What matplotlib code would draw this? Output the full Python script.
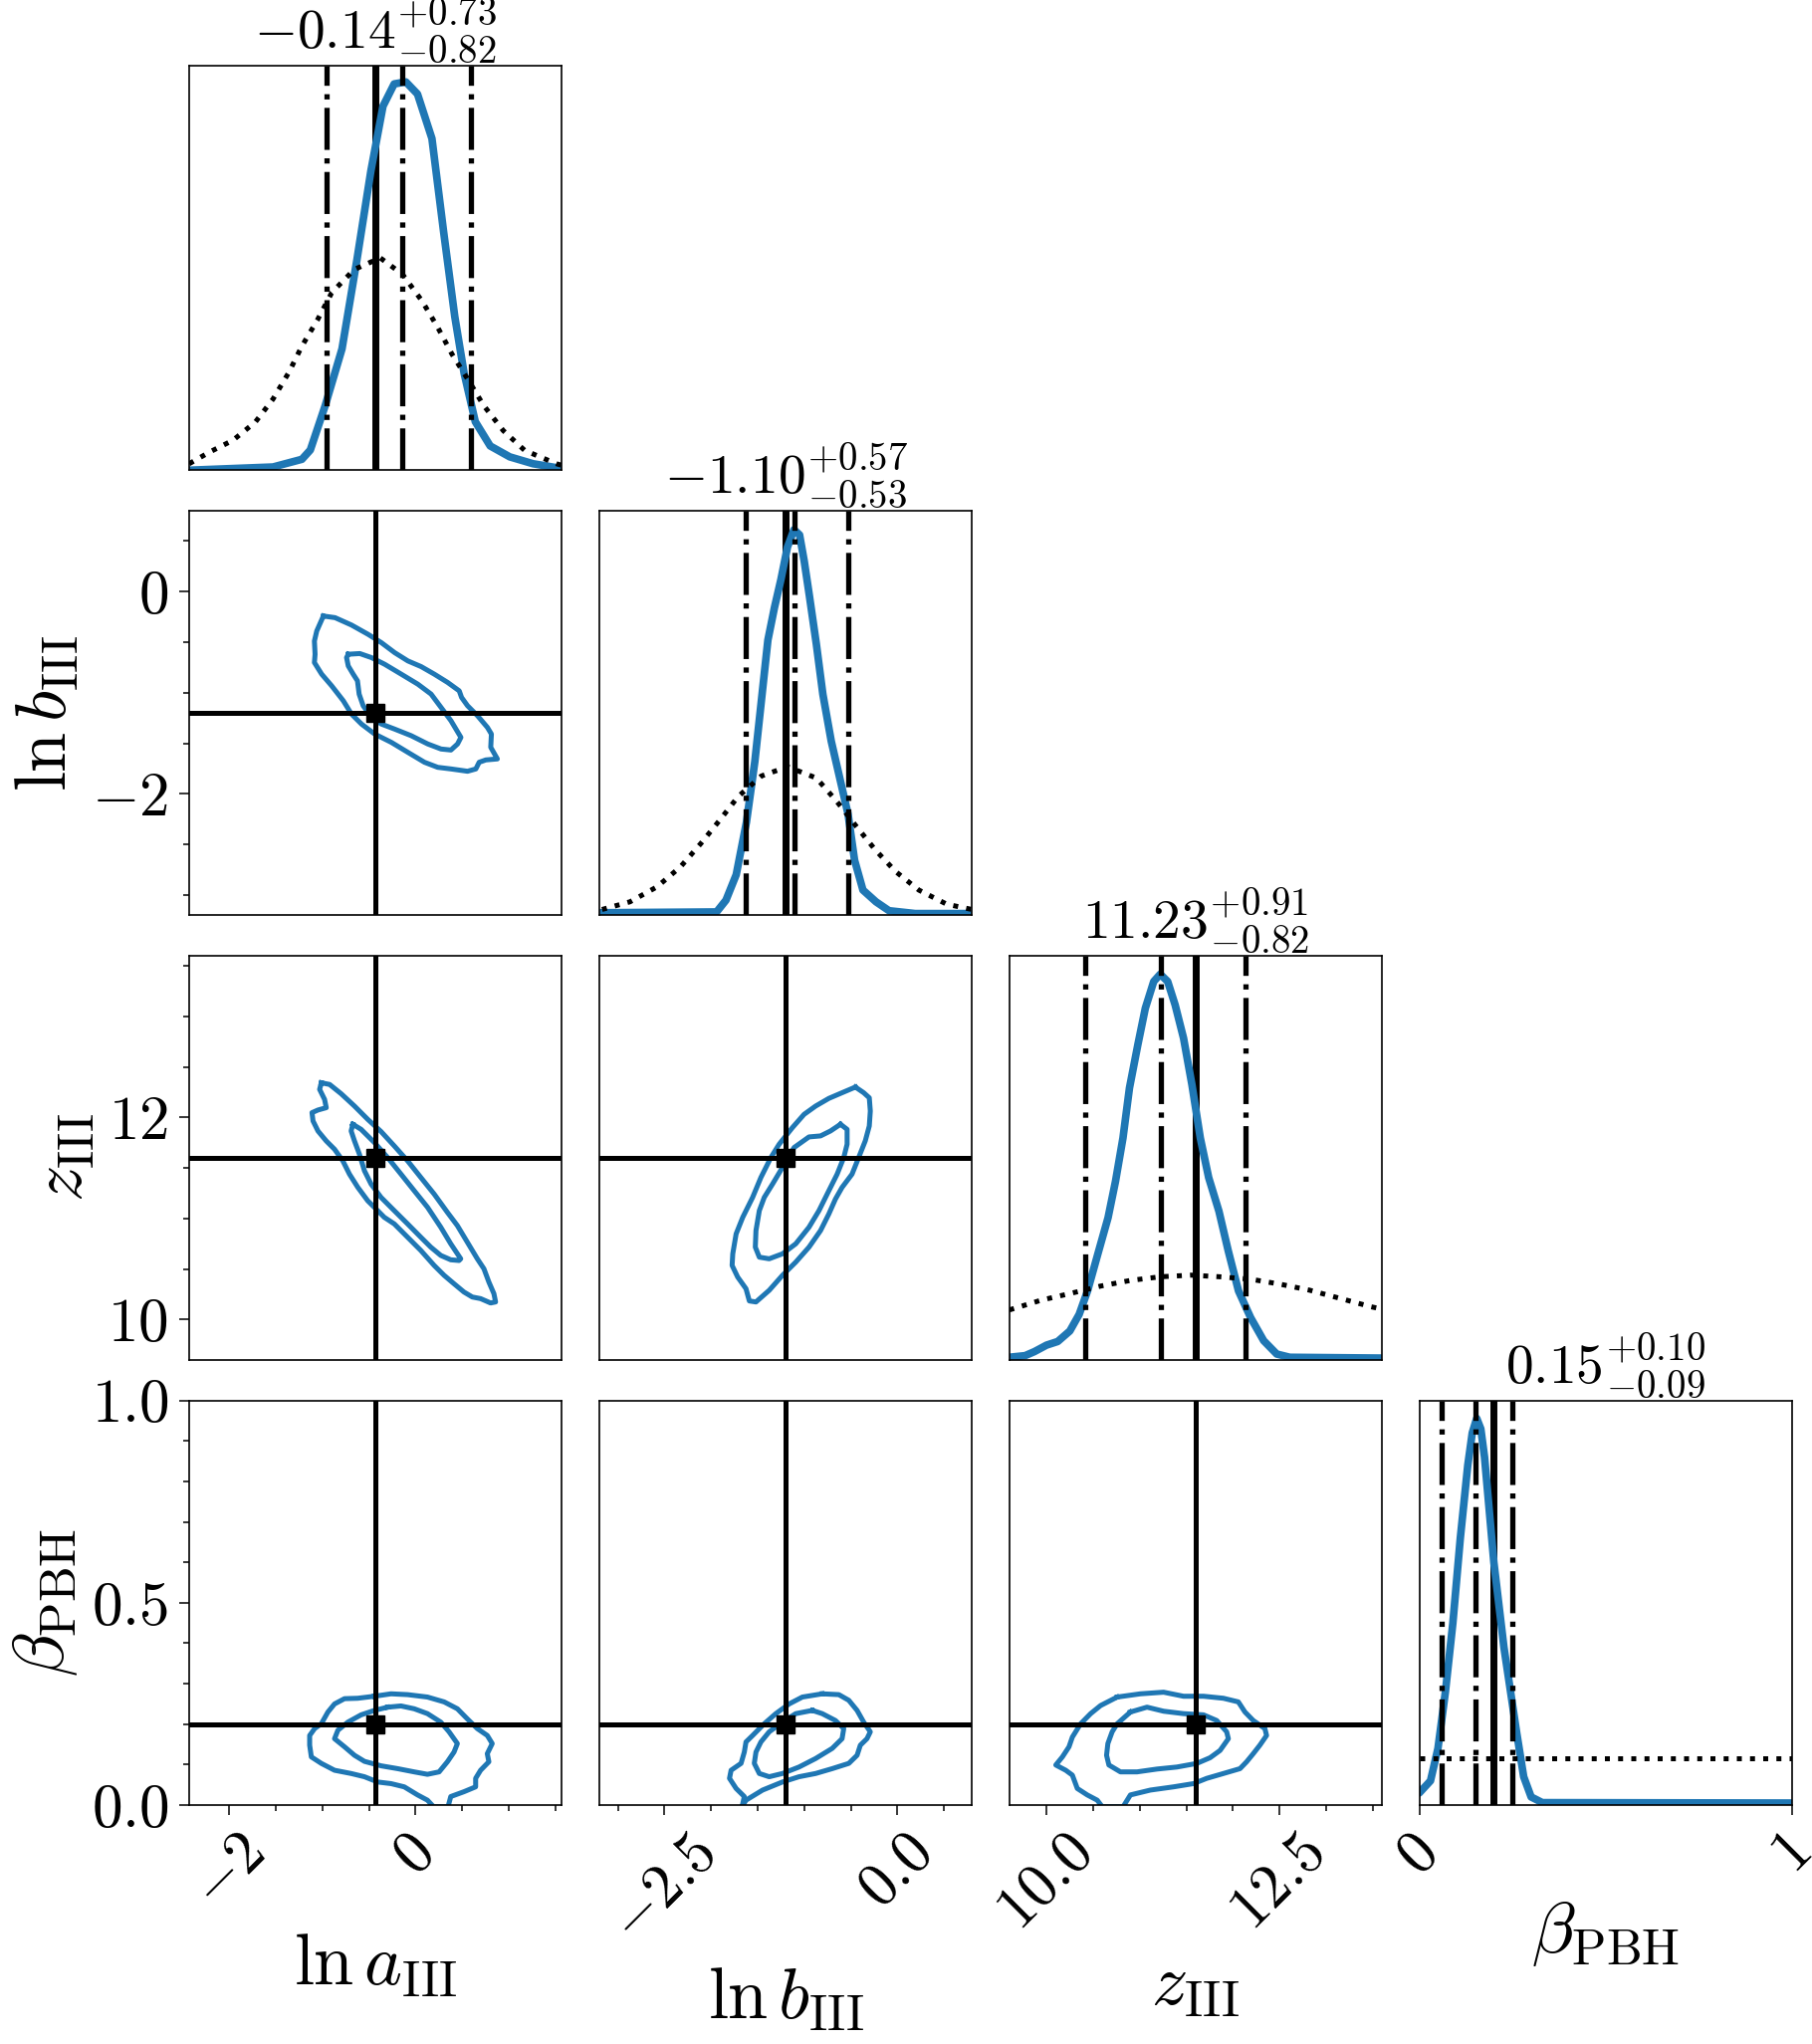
import numpy as np
import matplotlib.pyplot as plt
from matplotlib.ticker import MultipleLocator

plt.rcParams["mathtext.fontset"] = "cm"
plt.rcParams["font.family"] = "serif"
plt.rcParams["font.serif"] = ["cmr10", "DejaVu Serif"]
plt.rcParams["axes.formatter.use_mathtext"] = True

BLUE = "#1f77b4"

# parameters
labels = [r"$\ln a_{\rm III}$", r"$\ln b_{\rm III}$", r"$z_{\rm III}$", r"$\beta_{\rm PBH}$"]
truths = [-0.43, -1.2, 11.6, 0.2]
ranges = [(-2.43, 1.57), (-3.2, 0.8), (9.6, 13.6), (0.0, 1.0)]
medians = [-0.14, -1.10, 11.23, 0.15]
err_plus = [0.73, 0.57, 0.91, 0.10]
err_minus = [0.82, 0.53, 0.82, 0.09]

xtick_vals = [[-2, 0], [-2.5, 0.0], [10.0, 12.5], [0, 1]]
xtick_labels = [[r"$-2$", r"$0$"], [r"$-2.5$", r"$0.0$"], [r"$10.0$", r"$12.5$"], [r"$0$", r"$1$"]]
xminor_step = [0.5, 0.5, 0.5, None]
ytick_vals = [None, [-2, 0], [10, 12], [0.0, 0.5, 1.0]]
ytick_labels = [None, [r"$-2$", r"$0$"], [r"$10$", r"$12$"], [r"$0.0$", r"$0.5$", r"$1.0$"]]
yminor_step = [None, 0.5, 0.5, 0.1]

# 1D marginal posteriors (height as fraction of panel)
post_a_x = [-2.43, -1.53, -1.22, -1.13, -0.97, -0.79, -0.63, -0.48, -0.35, -0.23, -0.105,
            0.02, 0.175, 0.30, 0.42, 0.52, 0.64, 0.80, 1.01, 1.26, 1.57]
post_a_y = [0.0, 0.008, 0.027, 0.05, 0.16, 0.30, 0.52, 0.74, 0.90, 0.955, 0.96,
            0.93, 0.82, 0.59, 0.38, 0.24, 0.12, 0.06, 0.033, 0.016, 0.004]
post_b_x = [-3.2, -1.94, -1.84, -1.73, -1.62, -1.53, -1.46, -1.39, -1.32, -1.25, -1.18,
            -1.11, -1.05, -1.0, -0.945, -0.87, -0.80, -0.71, -0.62, -0.53, -0.46, -0.37,
            -0.23, -0.09, 0.19, 0.8]
post_b_y = [0.006, 0.008, 0.037, 0.10, 0.23, 0.38, 0.53, 0.68, 0.76, 0.83, 0.91,
            0.953, 0.94, 0.875, 0.79, 0.67, 0.546, 0.43, 0.34, 0.25, 0.136, 0.062,
            0.033, 0.011, 0.004, 0.004]
post_z_x = [9.6, 9.77, 9.87, 10.0, 10.12, 10.25, 10.35, 10.44, 10.55, 10.66, 10.74, 10.82,
            10.89, 10.98, 11.06, 11.15, 11.22, 11.30, 11.38, 11.47, 11.56, 11.65, 11.74,
            11.85, 11.95, 12.06, 12.19, 12.33, 12.47, 12.61, 13.6]
post_z_y = [0.007, 0.011, 0.021, 0.037, 0.046, 0.072, 0.113, 0.171, 0.262, 0.352, 0.442, 0.549,
            0.673, 0.780, 0.870, 0.936, 0.954, 0.936, 0.878, 0.796, 0.681, 0.549, 0.451,
            0.368, 0.270, 0.171, 0.105, 0.048, 0.015, 0.007, 0.005]
post_beta_x = [0.0, 0.03, 0.05, 0.07, 0.09, 0.11, 0.13, 0.142, 0.154, 0.165, 0.175, 0.20,
               0.227, 0.261, 0.28, 0.30, 0.33, 1.0]
post_beta_y = [0.03, 0.06, 0.14, 0.28, 0.45, 0.66, 0.84, 0.92, 0.956, 0.93, 0.86, 0.60,
               0.39, 0.18, 0.07, 0.02, 0.006, 0.005]

# priors (dotted)
prior_a_x = [-2.43, -2.21, -1.96, -1.72, -1.53, -1.36, -1.22, -1.05, -0.90, -0.66, -0.38,
             -0.14, 0.07, 0.24, 0.39, 0.57, 0.73, 0.94, 1.17, 1.51, 1.57]
prior_a_y = [0.016, 0.045, 0.074, 0.119, 0.176, 0.242, 0.307, 0.373, 0.439, 0.496, 0.525,
             0.484, 0.418, 0.352, 0.287, 0.221, 0.160, 0.098, 0.049, 0.016, 0.012]
prior_b_x = [-3.17, -2.87, -2.58, -2.33, -2.11, -1.91, -1.71, -1.46, -1.18, -0.87, -0.65,
             -0.45, -0.24, -0.02, 0.23, 0.53, 0.80]
prior_b_y = [0.014, 0.033, 0.070, 0.119, 0.177, 0.234, 0.293, 0.344, 0.367, 0.339, 0.281,
             0.222, 0.162, 0.108, 0.062, 0.027, 0.014]
prior_z_x = [9.6, 9.94, 10.26, 10.58, 10.9, 11.22, 11.55, 11.86, 12.19, 12.50, 12.82, 13.16,
             13.48, 13.6]
prior_z_y = [0.124, 0.148, 0.165, 0.183, 0.197, 0.206, 0.210, 0.206, 0.200, 0.188, 0.173,
             0.152, 0.132, 0.126]
prior_beta_x = [0.0, 1.0]
prior_beta_y = [0.115, 0.115]

# 2D contours (outer and inner level)
ab_outer_x = [-0.990, -0.865, -0.688, -0.510, -0.368, -0.225, -0.083, 0.059, 0.201, 0.344,
              0.468, 0.493, 0.557, 0.664, 0.770, 0.813, 0.806, 0.877, 0.753, 0.682, 0.646,
              0.557, 0.379, 0.237, 0.095, -0.083, -0.261, -0.439, -0.581, -0.688, -0.776,
              -0.901, -1.008, -1.086, -1.079, -1.086, -1.061]
ab_outer_y = [-0.242, -0.258, -0.331, -0.423, -0.505, -0.604, -0.686, -0.742, -0.817, -0.899,
              -0.982, -1.047, -1.129, -1.228, -1.343, -1.409, -1.540, -1.655, -1.665, -1.688,
              -1.754, -1.777, -1.754, -1.738, -1.688, -1.590, -1.491, -1.409, -1.310, -1.212,
              -1.080, -0.932, -0.817, -0.702, -0.620, -0.489, -0.390]
ab_inner_x = [-0.723, -0.599, -0.474, -0.332, -0.154, 0.024, 0.166, 0.273, 0.379, 0.486,
              0.450, 0.379, 0.273, 0.130, -0.048, -0.225, -0.368, -0.474, -0.563, -0.606,
              -0.624, -0.670, -0.723, -0.741]
ab_inner_y = [-0.620, -0.613, -0.653, -0.719, -0.817, -0.916, -1.014, -1.146, -1.277, -1.442,
              -1.507, -1.567, -1.557, -1.507, -1.425, -1.360, -1.310, -1.245, -1.129, -1.014,
              -0.883, -0.817, -0.735, -0.653]

az_outer_x = [-1.012, -0.923, -0.799, -0.656, -0.514, -0.371, -0.229, -0.086, 0.056, 0.199,
              0.341, 0.448, 0.555, 0.662, 0.733, 0.786, 0.840, 0.858, 0.804, 0.697, 0.608,
              0.519, 0.412, 0.306, 0.199, 0.056, -0.086, -0.229, -0.336, -0.407, -0.514,
              -0.620, -0.710, -0.781, -0.870, -0.959, -1.048, -1.101, -1.112, -1.048, -0.959,
              -0.977, -1.030]
az_outer_y = [12.342, 12.326, 12.234, 12.112, 11.981, 11.860, 11.718, 11.570, 11.406, 11.242,
              11.061, 10.930, 10.766, 10.602, 10.503, 10.372, 10.257, 10.175, 10.165, 10.208,
              10.224, 10.273, 10.355, 10.438, 10.536, 10.684, 10.815, 10.947, 11.012, 11.078,
              11.176, 11.308, 11.439, 11.570, 11.685, 11.767, 11.866, 11.965, 12.047, 12.073,
              12.096, 12.178, 12.277]
az_inner_x = [-0.674, -0.585, -0.442, -0.300, -0.157, -0.015, 0.128, 0.270, 0.377, 0.484,
              0.466, 0.377, 0.270, 0.163, 0.056, -0.086, -0.229, -0.371, -0.478, -0.549,
              -0.603, -0.656, -0.692]
az_inner_y = [11.932, 11.882, 11.751, 11.603, 11.439, 11.275, 11.111, 10.914, 10.750, 10.602,
              10.585, 10.592, 10.635, 10.717, 10.815, 10.947, 11.078, 11.209, 11.341, 11.472,
              11.636, 11.767, 11.866]

bz_outer_x = [-0.451, -0.362, -0.302, -0.291, -0.302, -0.345, -0.416, -0.487, -0.594, -0.665,
              -0.736, -0.825, -0.949, -1.091, -1.234, -1.376, -1.518, -1.589, -1.625, -1.714,
              -1.774, -1.767, -1.731, -1.660, -1.554, -1.465, -1.358, -1.269, -1.127, -1.002,
              -0.878, -0.736, -0.594]
bz_outer_y = [12.300, 12.244, 12.194, 12.063, 11.915, 11.768, 11.603, 11.439, 11.308, 11.193,
              11.045, 10.881, 10.717, 10.569, 10.438, 10.290, 10.175, 10.185, 10.306, 10.421,
              10.536, 10.651, 10.848, 11.012, 11.209, 11.406, 11.603, 11.735, 11.899, 12.030,
              12.112, 12.188, 12.244]
bz_inner_x = [-0.611, -0.540, -0.540, -0.576, -0.647, -0.736, -0.842, -0.949, -1.091, -1.234,
              -1.376, -1.482, -1.525, -1.518, -1.482, -1.429, -1.340, -1.234, -1.109, -0.949,
              -0.825, -0.718]
bz_inner_y = [11.932, 11.882, 11.735, 11.603, 11.439, 11.275, 11.078, 10.914, 10.750, 10.651,
              10.602, 10.618, 10.717, 10.881, 11.078, 11.209, 11.341, 11.505, 11.702, 11.807,
              11.817, 11.866]

abeta_outer_x = [-0.442, -0.264, -0.086, 0.127, 0.306, 0.448, 0.555, 0.662, 0.769, 0.822,
                 0.769, 0.786, 0.697, 0.644, 0.644, 0.519, 0.377, 0.348, 0.192, 0.127, 0.021,
                 -0.122, -0.264, -0.407, -0.549, -0.692, -0.870, -1.012, -1.119, -1.137,
                 -1.137, -1.084, -1.012, -0.941, -0.870, -0.763, -0.621]
abeta_outer_y = [0.269, 0.275, 0.273, 0.267, 0.255, 0.238, 0.213, 0.189, 0.172, 0.152,
                 0.127, 0.107, 0.086, 0.066, 0.045, 0.033, 0.021, -0.004, -0.004, 0.012, 0.025,
                 0.045, 0.053, 0.057, 0.070, 0.078, 0.086, 0.103, 0.119, 0.148,
                 0.172, 0.189, 0.201, 0.230, 0.250, 0.263, 0.264]
abeta_inner_x = [-0.300, -0.157, -0.015, 0.127, 0.270, 0.359, 0.448, 0.412, 0.341, 0.252,
                 0.127, -0.015, -0.193, -0.371, -0.549, -0.656, -0.763, -0.870, -0.834,
                 -0.727, -0.585, -0.442]
abeta_inner_y = [0.242, 0.245, 0.238, 0.226, 0.205, 0.181, 0.152, 0.131, 0.107, 0.082,
                 0.076, 0.082, 0.090, 0.097, 0.108, 0.123, 0.144, 0.164, 0.185,
                 0.205, 0.223, 0.234]

bbeta_outer_x = [-0.807, -0.629, -0.522, -0.433, -0.362, -0.291, -0.327, -0.398, -0.433,
                 -0.522, -0.700, -0.878, -1.056, -1.234, -1.447, -1.625, -1.667, -1.643,
                 -1.731, -1.802, -1.785, -1.678, -1.643, -1.625, -1.554, -1.429, -1.305,
                 -1.162, -1.020]
bbeta_outer_y = [0.275, 0.273, 0.259, 0.234, 0.205, 0.181, 0.164, 0.148, 0.123,
                 0.103, 0.090, 0.078, 0.070, 0.057, 0.037, 0.012, -0.004, 0.021,
                 0.041, 0.066, 0.086, 0.103, 0.131, 0.156, 0.172, 0.201, 0.226,
                 0.250, 0.267]
bbeta_inner_x = [-0.913, -0.807, -0.665, -0.576, -0.594, -0.700, -0.878, -1.056, -1.234,
                 -1.376, -1.482, -1.536, -1.518, -1.465, -1.376, -1.234, -1.091]
bbeta_inner_y = [0.234, 0.226, 0.209, 0.189, 0.164, 0.140, 0.115, 0.094, 0.078,
                 0.070, 0.078, 0.103, 0.131, 0.156, 0.181, 0.205, 0.226]

zbeta_outer_x = [10.758, 11.007, 11.256, 11.470, 11.684, 11.898, 12.058, 12.129, 12.218,
                 12.343, 12.361, 12.289, 12.218, 12.147, 12.076, 11.898, 11.719, 11.577,
                 11.363, 11.114, 10.900, 10.822, 10.597, 10.544, 10.437, 10.330, 10.277,
                 10.206, 10.099, 10.170, 10.241, 10.277, 10.366, 10.473, 10.580]
zbeta_outer_y = [0.267, 0.275, 0.279, 0.269, 0.269, 0.264, 0.255, 0.230, 0.209,
                 0.189, 0.172, 0.148, 0.127, 0.107, 0.090, 0.078, 0.066, 0.053,
                 0.045, 0.037, 0.025, -0.004, -0.004, 0.012, 0.025, 0.041, 0.074,
                 0.086, 0.099, 0.119, 0.144, 0.168, 0.201, 0.226, 0.246]
zbeta_inner_x = [10.900, 11.078, 11.256, 11.470, 11.684, 11.826, 11.933, 11.951, 11.862,
                 11.755, 11.613, 11.399, 11.185, 10.971, 10.793, 10.669, 10.644, 10.658,
                 10.704, 10.758]
zbeta_inner_y = [0.230, 0.242, 0.232, 0.226, 0.223, 0.209, 0.181, 0.164, 0.135,
                 0.117, 0.103, 0.094, 0.089, 0.082, 0.082, 0.099, 0.123, 0.152,
                 0.181, 0.201]

posts = [(post_a_x, post_a_y), (post_b_x, post_b_y), (post_z_x, post_z_y), (post_beta_x, post_beta_y)]
priors = [(prior_a_x, prior_a_y), (prior_b_x, prior_b_y), (prior_z_x, prior_z_y),
          (prior_beta_x, prior_beta_y)]
contours = {
    (1, 0): [(ab_outer_x, ab_outer_y), (ab_inner_x, ab_inner_y)],
    (2, 0): [(az_outer_x, az_outer_y), (az_inner_x, az_inner_y)],
    (2, 1): [(bz_outer_x, bz_outer_y), (bz_inner_x, bz_inner_y)],
    (3, 0): [(abeta_outer_x, abeta_outer_y), (abeta_inner_x, abeta_inner_y)],
    (3, 1): [(bbeta_outer_x, bbeta_outer_y), (bbeta_inner_x, bbeta_inner_y)],
    (3, 2): [(zbeta_outer_x, zbeta_outer_y), (zbeta_inner_x, zbeta_inner_y)],
}

TICK_FS = 44
LABEL_FS = 52
TITLE_FS = 40

fig, axes = plt.subplots(4, 4, figsize=(18.2, 20.53), dpi=100)
fig.subplots_adjust(left=190 / 1820, right=1800 / 1820, bottom=1 - 1813 / 2053,
                    top=1 - 66 / 2053, wspace=0.1, hspace=0.1)

n = 4
for i in range(n):
    for j in range(n):
        ax = axes[i, j]
        if j > i:
            ax.set_visible(False)
            continue
        for sp in ax.spines.values():
            sp.set_linewidth(1.2)
        ax.tick_params(which="both", direction="out", width=1.1, labelsize=TICK_FS)
        ax.tick_params(which="major", length=7, pad=8)
        ax.tick_params(which="minor", length=4)

        if i == j:
            px, py = posts[i]
            ax.axvline(truths[i], color="k", lw=5.0, zorder=1)
            ax.plot(px, py, color=BLUE, lw=5.5, solid_joinstyle="round",
                    solid_capstyle="round", zorder=2)
            qs = [medians[i] - err_minus[i], medians[i], medians[i] + err_plus[i]]
            for q in qs:
                ax.axvline(q, color="k", ls=(0, (8.0, 1.6, 1, 1.6)), lw=3.8, zorder=3)
            qx, qy = priors[i]
            ax.plot(qx, qy, color="k", ls=":", lw=3.6, zorder=4)
            title = rf"${medians[i]:.2f}^{{+{err_plus[i]:.2f}}}_{{-{err_minus[i]:.2f}}}$"
            ax.set_title(title, fontsize=TITLE_FS, pad=4)
            ax.set_xlim(ranges[i])
            ax.set_ylim(0, 1)
            ax.set_yticks([])
        else:
            for cx, cy in contours[(i, j)]:
                ax.plot(cx + cx[:1], cy + cy[:1], color=BLUE, lw=3.6, solid_joinstyle="round")
            ax.axvline(truths[j], color="k", lw=3.6)
            ax.axhline(truths[i], color="k", lw=3.6)
            ax.plot(truths[j], truths[i], "s", color="k", ms=13)
            ax.set_xlim(ranges[j])
            ax.set_ylim(ranges[i])
            if j == 0:
                ax.set_yticks(ytick_vals[i])
                ax.set_yticklabels(ytick_labels[i])
                ax.yaxis.set_minor_locator(MultipleLocator(yminor_step[i]))
                ax.set_ylabel(labels[i], fontsize=LABEL_FS, labelpad=8)
            else:
                ax.set_yticks([])

        if i == n - 1:
            ax.set_xticks(xtick_vals[j])
            ax.set_xticklabels(xtick_labels[j], rotation=45)
            if xminor_step[j] is not None:
                ax.xaxis.set_minor_locator(MultipleLocator(xminor_step[j]))
            ax.set_xlabel(labels[j], fontsize=LABEL_FS, labelpad=10)
        else:
            ax.set_xticks([])

fig.savefig("out.png", dpi=100)
